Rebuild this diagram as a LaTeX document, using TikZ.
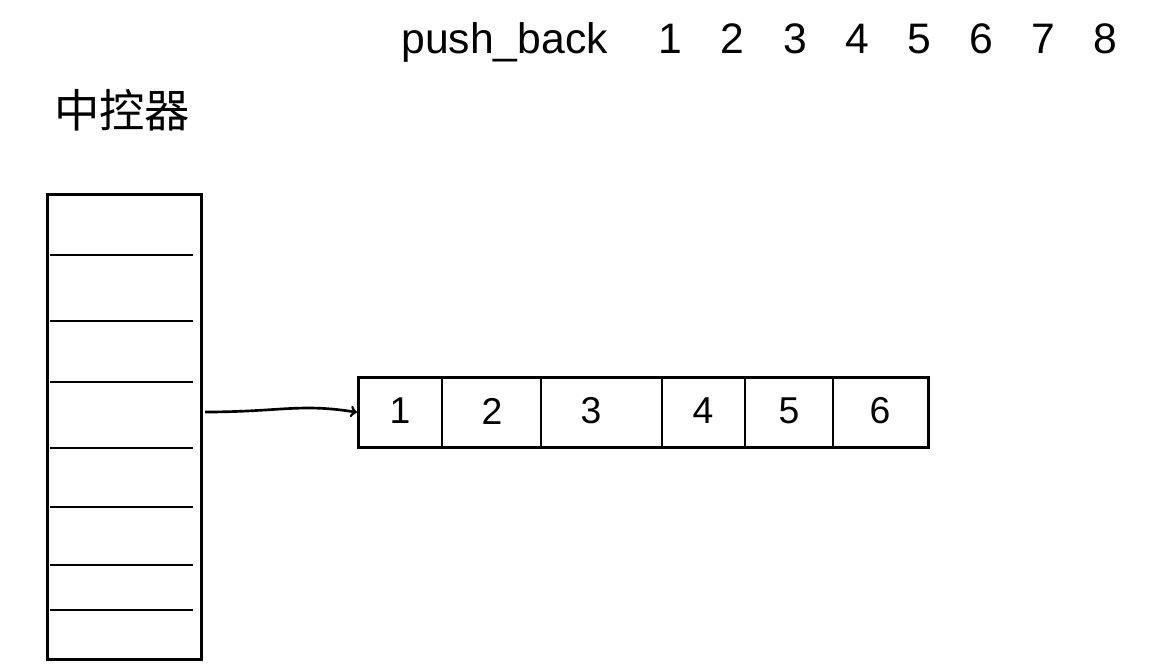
\documentclass[tikz,border=0pt]{standalone}
\usepackage{fontspec}
\newfontfamily\cjk{Noto Sans CJK SC}
\setmainfont{Liberation Sans}
\begin{document}
\begin{tikzpicture}[x=0.75pt,y=-0.75pt,line width=2pt,
  lbl/.style={font=\fontsize{32}{32}\selectfont},
  cell/.style={font=\fontsize{28}{28}\selectfont}]
\useasboundingbox (0,0) rectangle (1159,664);
\node[lbl,anchor=west,inner sep=0pt] (title) at (400,42) {push\_back\hspace{1.2em}1\hspace{0.9em}2\hspace{0.9em}3\hspace{0.9em}4\hspace{0.9em}5\hspace{0.9em}6\hspace{0.9em}7\hspace{0.9em}8};
\node[font=\fontsize{34}{34}\selectfont] (ctrl) at (122,110) {\cjk 中控器};
\node[draw,minimum width=154*0.75pt,minimum height=465*0.75pt,inner sep=0pt,anchor=north west] (map) at (46,193) {};
\foreach \y in {255,321,382,448,507,565,610}
  \draw (50,\y) -- (193,\y);
\node[draw,minimum width=570*0.75pt,minimum height=70*0.75pt,inner sep=0pt,anchor=north west] (arr) at (357,376) {};
\foreach \x in {442,541,662,745,833}
  \draw (\x,376) -- (\x,446);
\foreach \x/\n in {400/1,492/2,591/3,703/4,789/5,880/6}
  \node[cell] (c\n) at (\x,411) {\n};
\coordinate (s) at (205,412);
\draw[->] (s) .. controls (280,412) and (300,403) .. (arr.west);
\end{tikzpicture}
\end{document}
